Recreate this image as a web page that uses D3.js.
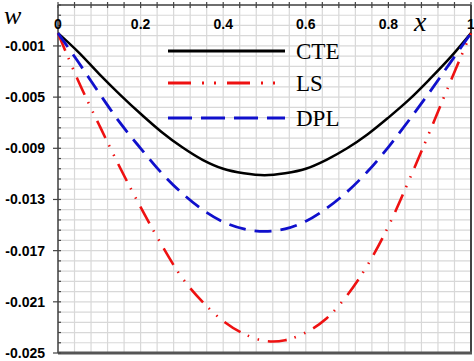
<!DOCTYPE html>
<html>
<head>
<meta charset="utf-8">
<script src="https://cdn.jsdelivr.net/npm/d3@7"></script>
<style>
  html, body { margin: 0; padding: 0; background: #fff; }
  #canvas { width: 474px; height: 361px; }
</style>
</head>
<body>
<div id="canvas"></div>
<script>
// x positions along the beam
const xs = [0, 0.05, 0.1, 0.15, 0.2, 0.25, 0.3, 0.35, 0.4, 0.45, 0.5, 0.55, 0.6, 0.65, 0.7, 0.75, 0.8, 0.85, 0.9, 0.95, 1];

// deflection w
const cte = [0, -0.0015, -0.0032, -0.0048, -0.0063, -0.0077, -0.0089, -0.0099, -0.0106, -0.01095, -0.0111, -0.01095, -0.0106, -0.0099, -0.009, -0.0079, -0.0066, -0.0052, -0.0036, -0.0019, 0];
const ls = [0, -0.0038, -0.0072, -0.0105, -0.0136, -0.0165, -0.0191, -0.0210, -0.0225, -0.0235, -0.02405, -0.0240, -0.0234, -0.0223, -0.0205, -0.0181, -0.0151, -0.0115, -0.0077, -0.0038, 0];
const dpl = [0, -0.0023, -0.0047, -0.007, -0.0090, -0.0109, -0.0125, -0.0138, -0.01475, -0.0153, -0.0155, -0.0153, -0.0147, -0.0137, -0.0124, -0.0108, -0.0089, -0.0068, -0.0046, -0.0023, 0];

const xTickLabels = [0, 0.2, 0.4, 0.6, 0.8, 1];
const yTickLabels = [-0.001, -0.005, -0.009, -0.013, -0.017, -0.021, -0.025];

const series = [
    { name: "CTE", values: cte, color: "#000000", width: 2.5, dash: null, legendDash: null },
    { name: "LS", values: ls, color: "#ee1111", width: 2.6, dash: "19,8,1.5,9,1.5,9", legendDash: "23,11,2,10,2,11" },
    { name: "DPL", values: dpl, color: "#1010cc", width: 2.8, dash: "17,9", legendDash: "24,9" }
];

const margin = { top: 5, right: 3, bottom: 8, left: 58 },
    width = 474 - margin.left - margin.right,
    height = 361 - margin.top - margin.bottom;

const svg = d3.select("#canvas")
    .append("svg")
    .attr("width", 474)
    .attr("height", 361)
    .append("g")
    .attr("transform", `translate(${margin.left},${margin.top})`);

const x = d3.scaleLinear().domain([0, 1]).range([0, width]);
const y = d3.scaleLinear().domain([-0.025, 0.0022]).range([height, 0]);

// grid
const xGrid = d3.range(0, 26).map(i => i * 0.04);
const yGrid = d3.range(0, 35).map(i => -0.025 + i * 0.0008);

svg.append("g")
    .selectAll("line")
    .data(xGrid)
    .join("line")
    .attr("x1", d => x(d)).attr("x2", d => x(d))
    .attr("y1", 0).attr("y2", height)
    .attr("stroke", "#d8d8d8")
    .attr("stroke-width", 1.2);

svg.append("g")
    .selectAll("line")
    .data(yGrid)
    .join("line")
    .attr("x1", 0).attr("x2", width)
    .attr("y1", d => y(d)).attr("y2", d => y(d))
    .attr("stroke", "#d8d8d8")
    .attr("stroke-width", 1.2);

// frame
svg.append("line").attr("x1", 0).attr("x2", width).attr("y1", 0).attr("y2", 0)
    .attr("stroke", "#444").attr("stroke-width", 1.5);
svg.append("line").attr("x1", 0).attr("x2", 0).attr("y1", 0).attr("y2", height)
    .attr("stroke", "#444").attr("stroke-width", 1.5);
svg.append("line").attr("x1", width).attr("x2", width).attr("y1", 0).attr("y2", height + 1)
    .attr("stroke", "#444").attr("stroke-width", 2);
svg.append("line").attr("x1", 0).attr("x2", width + 1).attr("y1", height).attr("y2", height)
    .attr("stroke", "#555").attr("stroke-width", 3);

// top tick marks
svg.append("g")
    .selectAll("line")
    .data(xGrid)
    .join("line")
    .attr("x1", d => x(d)).attr("x2", d => x(d))
    .attr("y1", -3).attr("y2", 3)
    .attr("stroke", "#444").attr("stroke-width", 1.2);

// left tick marks
svg.append("g")
    .selectAll("line")
    .data(yGrid)
    .join("line")
    .attr("x1", d => yTickLabels.some(t => Math.abs(t - d) < 1e-7) ? -5 : 0)
    .attr("x2", 3)
    .attr("y1", d => y(d)).attr("y2", d => y(d))
    .attr("stroke", "#444").attr("stroke-width", 1.2);

// tick labels
svg.append("g")
    .selectAll("text")
    .data(xTickLabels)
    .join("text")
    .attr("x", d => x(d))
    .attr("y", 24)
    .attr("text-anchor", "middle")
    .attr("font-family", "Liberation Sans, Arial, sans-serif")
    .attr("font-weight", "bold")
    .attr("font-size", 14)
    .text(d => d);

svg.append("g")
    .selectAll("text")
    .data(yTickLabels)
    .join("text")
    .attr("x", -13)
    .attr("y", d => y(d) + 5)
    .attr("text-anchor", "end")
    .attr("font-family", "Liberation Sans, Arial, sans-serif")
    .attr("font-weight", "bold")
    .attr("font-size", 14)
    .text(d => d);

// axis titles
svg.append("text")
    .attr("x", -54).attr("y", 19)
    .attr("font-family", "Liberation Serif, Times New Roman, serif")
    .attr("font-style", "italic")
    .attr("font-size", 26)
    .text("w");

svg.append("text")
    .attr("x", 356).attr("y", 26)
    .attr("font-family", "Liberation Serif, Times New Roman, serif")
    .attr("font-style", "italic")
    .attr("font-size", 28)
    .text("x");

// curves
const line = d3.line()
    .x((d, i) => x(xs[i]))
    .y(d => y(d))
    .curve(d3.curveCatmullRom);

series.forEach((s) => {
    svg.append("path")
        .datum(s.values)
        .attr("fill", "none")
        .attr("stroke", s.color)
        .attr("stroke-width", s.width)
        .attr("stroke-dasharray", s.dash)
        .attr("d", line);
});

// legend
const legendY = [46, 78, 113];
series.forEach((s, i) => {
    svg.append("line")
        .attr("x1", 110).attr("x2", 227)
        .attr("y1", legendY[i]).attr("y2", legendY[i])
        .attr("stroke", s.color)
        .attr("stroke-width", 3)
        .attr("stroke-dasharray", s.legendDash);
    svg.append("text")
        .attr("x", 238)
        .attr("y", legendY[i] + 8)
        .attr("font-family", "Liberation Serif, Times New Roman, serif")
        .attr("font-size", 23)
        .text(s.name);
});
</script>
</body>
</html>
